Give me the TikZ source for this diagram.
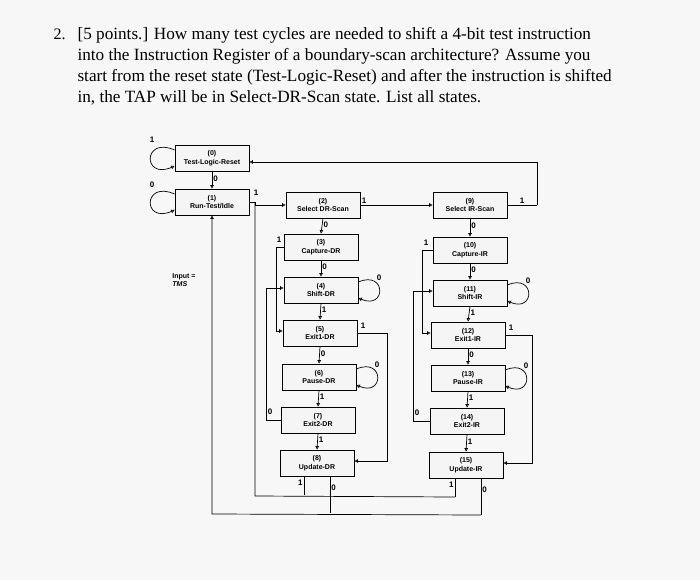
\documentclass[tikz,border=0pt]{standalone}
\usepackage{fontspec}
\setmainfont{Liberation Serif}
\newfontfamily\lab{Liberation Sans}
\usetikzlibrary{arrows.meta}
\begin{document}
\begin{tikzpicture}[x=1pt,y=-1pt,
 st/.style={draw,line width=0.8pt,fill=gray!8,minimum width=74pt,minimum height=26pt,inner sep=0pt,align=center,font=\lab\bfseries\fontsize{7}{8.5}\selectfont},
 ln/.style={line width=0.7pt},
 arr/.style={ln,-{Triangle[open,length=3.5pt,width=3.5pt]}},
 lb/.style={font=\lab\bfseries\fontsize{8}{9}\selectfont,inner sep=1pt}]
\useasboundingbox[fill=gray!6] (0,0) rectangle (700,580);
% question text
\node[anchor=west,font=\fontsize{16}{18}\selectfont] at (50,34) {2.};
\node[anchor=north west,align=left,font=\fontsize{17.2}{21}\selectfont] at (74,24) {[5 points.] How many test cycles are needed to shift a 4-bit test instruction\\
into the Instruction Register of a boundary-scan architecture? Assume you\\
start from the reset state (Test-Logic-Reset) and after the instruction is shifted\\
in, the TAP will be in Select-DR-Scan state. List all states.};
% states
\node[st] (s0) at (212,158) {(0)\\Test-Logic-Reset};
\node[st] (s1) at (212,202) {(1)\\Run-Test/Idle};
\node[st] (s2) at (323,205) {(2)\\Select DR-Scan};
\node[st] (s3) at (321,247) {(3)\\Capture-DR};
\node[st] (s4) at (321,290) {(4)\\Shift-DR};
\node[st] (s5) at (320,333) {(5)\\Exit1-DR};
\node[st] (s6) at (319,377) {(6)\\Pause-DR};
\node[st] (s7) at (318,420) {(7)\\Exit2-DR};
\node[st] (s8) at (317,463) {(8)\\Update-DR};
\node[st] (s9) at (470,205) {(9)\\Select IR-Scan};
\node[st] (s10) at (470,250) {(10)\\Capture-IR};
\node[st] (s11) at (470,293) {(11)\\Shift-IR};
\node[st] (s12) at (468,335) {(12)\\Exit1-IR};
\node[st] (s13) at (468,378) {(13)\\Pause-IR};
\node[st] (s14) at (467,421) {(14)\\Exit2-IR};
\node[st] (s15) at (466,465) {(15)\\Update-IR};
\node[lb,font=\lab\bfseries\fontsize{7}{8}\selectfont,align=left] (inp) at (184,280) {Input =\\\itshape TMS};
% vertical 0/1 edges
\foreach \a/\b/\l in {s0/s1/0,s2/s3/0,s3/s4/0,s4/s5/1,s5/s6/0,s6/s7/1,s7/s8/1,s9/s10/0,s10/s11/0,s11/s12/1,s12/s13/0,s13/s14/1,s14/s15/1}{
 \draw[arr] (\a.south) -- (\b.north) node[lb,pos=0.4,right] {\l};}
% self loops
\foreach \s in {s0,s1}{
 \draw[arr] ([yshift=8]\s.west) .. controls +(-32,-14) and +(-32,14) .. ([yshift=-8]\s.west);}
\node[lb] (l0) at (152,140) {1};
\node[lb] (l1) at (152,185) {0};
\foreach \s/\x/\y in {s4/379/278,s6/377/365,s11/528/281,s13/526/366}{
 \draw[arr] ([yshift=8]\s.east) .. controls +(28,-12) and +(28,12) .. ([yshift=-8]\s.east);
 \node[lb] at (\x,\y) {0};}
% horizontal
\coordinate (j1) at (255,202);
\draw[ln] (s1.east) -- (j1);
\draw[arr] (j1) |- (s2.west);
\node[lb] at (256,193) {1};
\draw[arr] (s2.east) -- node[lb,pos=0.05,above] {1} (s9.west);
\coordinate (tr) at (537,205);
\coordinate (tt) at (537,162);
\draw[ln] (s9.east) -- (tr) node[lb,pos=0.5,above] {1};
\draw[arr] (tr) -- (tt) -- (s0.east |- tt);
% DR column side loops
\coordinate (c3) at (276,247);
\draw[arr] (s3.west) -- (c3) |- ([yshift=2]s5.west);
\node[lb] at (279,240) {1};
\coordinate (c7) at (266,420);
\draw[arr] (s7.west) -- (c7) |- ([yshift=2]s4.west);
\node[lb] at (270,412) {0};
\coordinate (c5) at (387,333);
\draw[arr] (s5.east) -- (c5) |- ([yshift=2]s8.east);
\node[lb] at (363,326) {1};
% IR column side loops
\coordinate (d10) at (422,250);
\draw[arr] (s10.west) -- (d10) |- ([yshift=2]s12.west);
\node[lb] at (426,243) {1};
\coordinate (d14) at (413,421);
\draw[arr] (s14.west) -- (d14) |- ([yshift=2]s11.west);
\node[lb] at (417,413) {0};
\coordinate (d12) at (532,335);
\draw[arr] (s12.east) -- (d12) |- ([yshift=2]s15.east);
\node[lb] at (511,328) {1};
% bottom returns
\coordinate (b8a) at (304,495);
\coordinate (b8b) at (330,513);
\coordinate (b15a) at (455,497);
\coordinate (b15b) at (481,515);
\draw[ln] (b8a |- s8.south) -- (b8a) node[lb,pos=0.35,left] {1};
\draw[ln] (b8b |- s8.south) -- (b8b) node[lb,pos=0.3,right] {0};
\draw[ln] (b15a |- s15.south) -- (b15a) node[lb,pos=0.35,left] {1};
\draw[ln] (b15b |- s15.south) -- (b15b) node[lb,pos=0.3,right] {0};
\coordinate (bl1) at (255,496);
\coordinate (bl2) at (212,514);
\draw[ln] (b15a) -- (bl1) -- (j1);
\draw[arr] (b15b) -- (bl2) -- (s1.south);
\end{tikzpicture}
\end{document}
